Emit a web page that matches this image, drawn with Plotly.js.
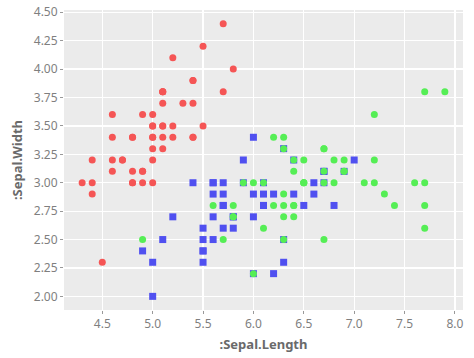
<!DOCTYPE html>
<html><head><meta charset="utf-8">
<script src="https://cdn.plot.ly/plotly-3.0.1.min.js"></script>
<style>html,body{margin:0;padding:0;background:#fff}#plot{width:474px;height:358px}</style>
</head><body><div id="plot"></div>
<script>
const setosaX=[5.1,4.9,4.7,4.6,5.0,5.4,4.6,5.0,4.4,4.9,5.4,4.8,4.8,4.3,5.8,5.7,5.4,5.1,5.7,5.1,5.4,5.1,4.6,5.1,4.8,5.0,5.0,5.2,5.2,4.7,4.8,5.4,5.2,5.5,4.9,5.0,5.5,4.9,4.4,5.1,5.0,4.5,4.4,5.0,5.1,4.8,5.1,4.6,5.3,5.0];
const setosaY=[3.5,3.0,3.2,3.1,3.6,3.9,3.4,3.4,2.9,3.1,3.7,3.4,3.0,3.0,4.0,4.4,3.9,3.5,3.8,3.8,3.4,3.7,3.6,3.3,3.4,3.0,3.4,3.5,3.4,3.2,3.1,3.4,4.1,4.2,3.1,3.2,3.5,3.6,3.0,3.4,3.5,2.3,3.2,3.5,3.8,3.0,3.8,3.2,3.7,3.3];
const versicolorX=[7.0,6.4,6.9,5.5,6.5,5.7,6.3,4.9,6.6,5.2,5.0,5.9,6.0,6.1,5.6,6.7,5.6,5.8,6.2,5.6,5.9,6.1,6.3,6.1,6.4,6.6,6.8,6.7,6.0,5.7,5.5,5.5,5.8,6.0,5.4,6.0,6.7,6.3,5.6,5.5,5.5,6.1,5.8,5.0,5.6,5.7,5.7,6.2,5.1,5.7];
const versicolorY=[3.2,3.2,3.1,2.3,2.8,2.8,3.3,2.4,2.9,2.7,2.0,3.0,2.2,2.9,2.9,3.1,3.0,2.7,2.2,2.5,3.2,2.8,2.5,2.8,2.9,3.0,2.8,3.0,2.9,2.6,2.4,2.4,2.7,2.7,3.0,3.4,3.1,2.3,3.0,2.5,2.6,3.0,2.6,2.3,2.7,3.0,2.9,2.9,2.5,2.8];
const virginicaX=[6.3,5.8,7.1,6.3,6.5,7.6,4.9,7.3,6.7,7.2,6.5,6.4,6.8,5.7,5.8,6.4,6.5,7.7,7.7,6.0,6.9,5.6,7.7,6.3,6.7,7.2,6.2,6.1,6.4,7.2,7.4,7.9,6.4,6.3,6.1,7.7,6.3,6.4,6.0,6.9,6.7,6.9,5.8,6.8,6.7,6.7,6.3,6.5,6.2,5.9];
const virginicaY=[3.3,2.7,3.0,2.9,3.0,3.0,2.5,2.9,2.5,3.6,3.2,2.7,3.0,2.5,2.8,3.2,3.0,3.8,2.6,2.2,3.2,2.8,2.8,2.7,3.3,3.2,2.8,3.0,2.8,3.0,2.8,3.8,2.8,2.8,2.6,3.0,3.4,3.1,3.0,3.1,3.1,3.1,2.7,3.2,3.3,3.0,2.5,3.0,3.4,3.0];
const xTicks=[4.5,5.0,5.5,6.0,6.5,7.0,7.5,8.0];
const yTicks=[2.00,2.25,2.50,2.75,3.00,3.25,3.50,3.75,4.00,4.25,4.50];

const traces=[
 {x:setosaX,y:setosaY,type:'scatter',mode:'markers',name:'setosa',marker:{symbol:'circle',size:7,color:'#F55555'}},
 {x:versicolorX,y:versicolorY,type:'scatter',mode:'markers',name:'versicolor',marker:{symbol:'square',size:7,color:'#5050F0'}},
 {x:virginicaX,y:virginicaY,type:'scatter',mode:'markers',name:'virginica',marker:{symbol:'circle',size:7,color:'#55EE55'}}
];
const tickFont={family:'Noto Sans, Open Sans, sans-serif',size:12,color:'#7f7f7f'};
const titleFont={family:'Noto Sans, Open Sans, sans-serif',size:13,color:'#6a6a6a',weight:'bold'};
const layout={
 width:474,height:358,
 margin:{l:64,r:11,t:10,b:48},
 paper_bgcolor:'#ffffff',plot_bgcolor:'#EBEBEB',
 showlegend:false,
 xaxis:{range:[4.12,8.08],tickvals:xTicks,ticktext:xTicks.map(v=>v.toFixed(1)),
   showgrid:true,gridcolor:'#ffffff',gridwidth:1.2,zeroline:false,showline:false,
   ticks:'outside',ticklen:3,tickcolor:'#999999',tickwidth:1,tickfont:tickFont,
   title:{text:':Sepal.Length',font:titleFont,standoff:8}},
 yaxis:{range:[1.88,4.52],tickvals:yTicks,ticktext:yTicks.map(v=>v.toFixed(2)),
   showgrid:true,gridcolor:'#ffffff',gridwidth:1.2,zeroline:false,showline:false,
   ticks:'outside',ticklen:3,tickcolor:'#999999',tickwidth:1,tickfont:tickFont,
   title:{text:':Sepal.Width',font:titleFont,standoff:8}}
};
Plotly.newPlot('plot',traces,layout,{displayModeBar:false,staticPlot:true});
</script></body></html>
